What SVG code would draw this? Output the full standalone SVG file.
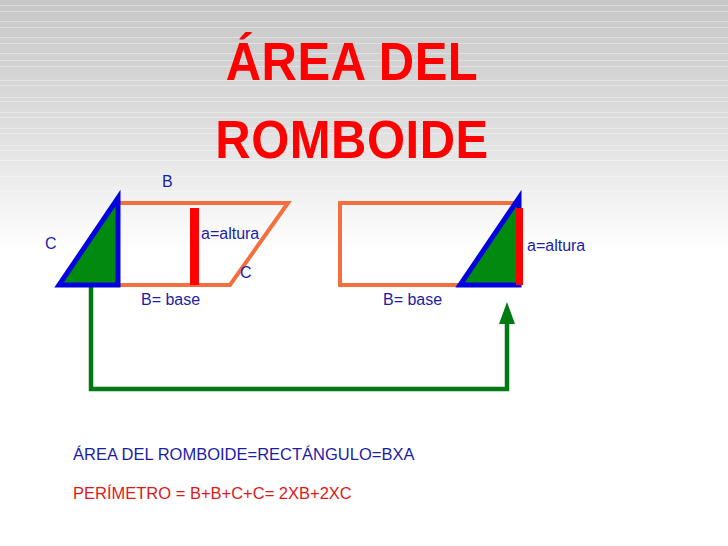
<svg xmlns="http://www.w3.org/2000/svg" width="728" height="546" viewBox="0 0 728 546">
<defs>
<linearGradient id="bg" x1="0" y1="0" x2="0" y2="1">
<stop offset="0" stop-color="#c6c6c6"/>
<stop offset="0.5" stop-color="#dedede"/>
<stop offset="1" stop-color="#ffffff"/>
</linearGradient>
<marker id="arrow" viewBox="0 0 22 16" refX="2" refY="8" markerWidth="22" markerHeight="16" markerUnits="userSpaceOnUse" orient="auto">
<path d="M0,0 L22,8 L0,16 Z" fill="#007a12"/>
</marker>
<style>
.t{font-family:"Liberation Sans",Arial,sans-serif;font-size:16px;fill:#1c1ca8}
.f{font-size:16.5px}
.title{font-family:"Liberation Sans",Arial,sans-serif;font-weight:bold;font-size:49px;fill:#ff0000;text-anchor:middle;letter-spacing:0.5px}
.org{fill:none;stroke:#f46f3f;stroke-width:4}
.tri{fill:#008a10;stroke:#0000e0;stroke-width:5;stroke-linejoin:miter}
.bar{fill:#ff0000}
.conn{fill:none;stroke:#007a12;stroke-width:4.5}
.stripe{stroke:#ffffff;stroke-width:1}
</style>
</defs>
<rect x="0" y="0" width="728" height="546" fill="#ffffff"/>
<rect x="0" y="0" width="728" height="250" fill="url(#bg)"/>
<g id="stripes" class="stripe" opacity="0.35">
<line x1="0" y1="5.5" x2="728" y2="5.5"/>
<line x1="0" y1="11.5" x2="728" y2="11.5"/>
<line x1="0" y1="21.5" x2="728" y2="21.5"/>
<line x1="0" y1="27.5" x2="728" y2="27.5"/>
<line x1="0" y1="37.5" x2="728" y2="37.5"/>
<line x1="0" y1="43.5" x2="728" y2="43.5"/>
<line x1="0" y1="53.5" x2="728" y2="53.5"/>
<line x1="0" y1="60.5" x2="728" y2="60.5"/>
<line x1="0" y1="66.5" x2="728" y2="66.5"/>
<line x1="0" y1="80.5" x2="728" y2="80.5"/>
<line x1="0" y1="85.5" x2="728" y2="85.5"/>
<line x1="0" y1="97.5" x2="728" y2="97.5"/>
<line x1="0" y1="101.5" x2="728" y2="101.5"/>
<line x1="0" y1="112.5" x2="728" y2="112.5"/>
<line x1="0" y1="117.5" x2="728" y2="117.5"/>
<line x1="0" y1="128.5" x2="728" y2="128.5"/>
<line x1="0" y1="133.5" x2="728" y2="133.5"/>
<line x1="0" y1="145.5" x2="728" y2="145.5"/>
<line x1="0" y1="150.5" x2="728" y2="150.5"/>
<line x1="0" y1="160.5" x2="728" y2="160.5"/>
<line x1="0" y1="176.5" x2="728" y2="176.5"/>
<line x1="0" y1="191.5" x2="728" y2="191.5"/>
</g>

<g id="title">
<text class="title" transform="translate(352,80) scale(1,1.1)">ÁREA DEL</text>
<text class="title" transform="translate(352,158) scale(1,1.1)">ROMBOIDE</text>
</g>

<g id="connectors">
<path class="conn" d="M91,287 L91,389 L507,389 L507,322" marker-end="url(#arrow)"/>
</g>

<g id="romboide">
<polygon class="org" points="118,203 288,203 230,285 118,285"/>
<rect class="bar" x="190" y="208" width="9" height="77"/>
<polygon class="tri" points="118,198 118,285 59,285"/>
</g>

<g id="rectangulo">
<rect class="org" x="340" y="203" width="178" height="82"/>
<polygon class="tri" points="519,198 519,285 460,285"/>
<rect class="bar" x="516" y="208" width="7" height="77"/>
</g>

<g id="labels">
<text class="t" x="162" y="187">B</text>
<text class="t" x="45" y="249">C</text>
<text class="t" x="201" y="239">a=altura</text>
<text class="t" x="240" y="278">C</text>
<text class="t" x="141" y="305">B= base</text>
<text class="t" x="527" y="251">a=altura</text>
<text class="t" x="383" y="305">B= base</text>
</g>

<g id="formulas">
<text class="t f" x="73" y="460">ÁREA DEL ROMBOIDE=RECTÁNGULO=BXA</text>
<text class="t f" x="73" y="499" style="fill:#e01818">PERÍMETRO = B+B+C+C= 2XB+2XC</text>
</g>
</svg>
